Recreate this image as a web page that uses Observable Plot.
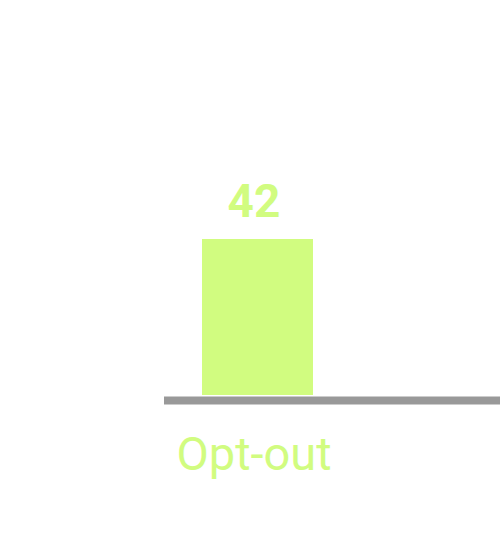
<!DOCTYPE html>
<html>
<head>
<meta charset="utf-8">
<script src="https://cdn.jsdelivr.net/npm/d3@7"></script>
<script src="https://cdn.jsdelivr.net/npm/@observablehq/plot@0.6"></script>
<style>
  html, body { margin: 0; padding: 0; background: #fff; }
  #chart svg { display: block; }
</style>
</head>
<body>
<div id="chart"></div>
<script>
const categories = ["Opt-out"];
const values = [42];
const barColor = "#d1fc80";

const data = categories.map((c, i) => ({category: c, value: values[i]}));

const chart = Plot.plot({
  width: 500,
  height: 552,
  marginLeft: 164,
  marginRight: 0,
  marginTop: 0,
  marginBottom: 0,
  style: {fontFamily: "Roboto, sans-serif", background: "#fff"},
  x: {domain: categories, range: [202, 313], padding: 0, axis: null},
  y: {domain: [0, 42], range: [395, 239], axis: null},
  marks: [
    Plot.barY(data, {x: "category", y: "value", fill: barColor}),
    Plot.ruleY([0], {stroke: "#999999", strokeWidth: 8, dy: 5}),
    Plot.text(data, {x: "category", y: "value", text: d => String(d.value), fill: barColor,
      fontSize: 46, fontWeight: "bold", lineAnchor: "bottom", dy: -23, dx: -4}),
    Plot.text(data, {x: "category", y: () => 0, text: "category", fill: barColor,
      fontSize: 47, fontWeight: 400, lineAnchor: "bottom", dy: 74, dx: -4})
  ]
});
document.getElementById("chart").appendChild(chart);
</script>
</body>
</html>
